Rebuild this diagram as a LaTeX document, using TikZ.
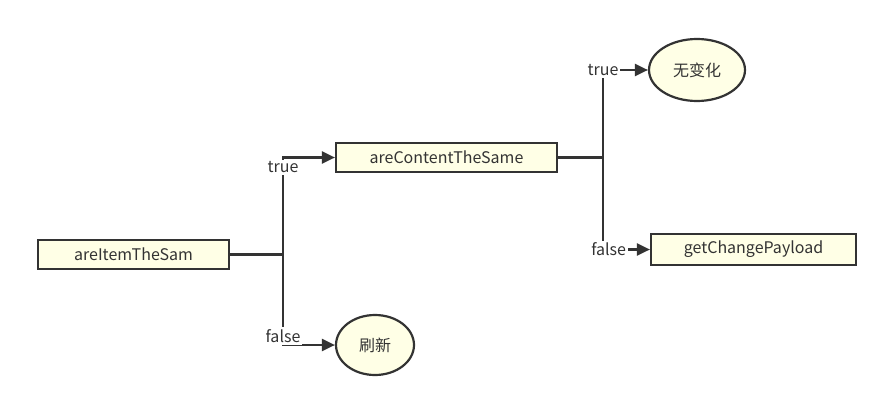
\documentclass[tikz,border=0pt]{standalone}
\usepackage{fontspec}
\setmainfont{Noto Sans CJK SC}
\usetikzlibrary{arrows.meta,shapes.geometric}
\definecolor{fillc}{HTML}{FFFFE6}
\definecolor{linec}{HTML}{333333}
\tikzset{
  box/.style={draw=linec,line width=2.2pt,fill=fillc,minimum height=29pt,inner sep=0pt,font=\fontsize{16}{18}\selectfont,text=linec},
  oval/.style={ellipse,draw=linec,line width=2.2pt,fill=fillc,inner sep=0pt,font=\fontsize{16}{18}\selectfont,text=linec},
  conn/.style={draw=linec,line width=2.2pt,-{Triangle[length=13pt,width=12pt]}},
  seg/.style={draw=linec,line width=2.2pt},
  lbl/.style={fill=white,inner sep=2pt,font=\fontsize{16}{18}\selectfont,text=linec}
}
\begin{document}
\begin{tikzpicture}[x=1pt,y=-1pt]
\useasboundingbox (0,0) rectangle (893,412);
\node[box,minimum width=191pt] (a) at (133.5,254.5) {areItemTheSam};
\node[box,minimum width=221pt] (b) at (446.5,157.5) {areContentTheSame};
\node[oval,minimum width=78pt,minimum height=60pt] (c) at (375,345) {刷新};
\node[oval,minimum width=96pt,minimum height=62pt] (d) at (697,70) {无变化};
\node[box,minimum width=205pt,minimum height=31pt] (e) at (753.5,249.5) {getChangePayload};
\coordinate (j1) at (283,254.5);
\coordinate (j2) at (603,157.5);
\draw[seg] (a.east) -- (j1);
\draw[conn] (j1) |- (b.west) node[lbl,pos=0.45] {true};
\draw[conn] (j1) |- (c.west) node[lbl,pos=0.45] {false};
\draw[seg] (b.east) -- (j2);
\draw[conn] (j2) |- (d.west) node[lbl,pos=0.5] {true};
\draw[conn] (j2) |- (e.west) node[lbl,pos=0.56] {false};
\end{tikzpicture}
\end{document}
